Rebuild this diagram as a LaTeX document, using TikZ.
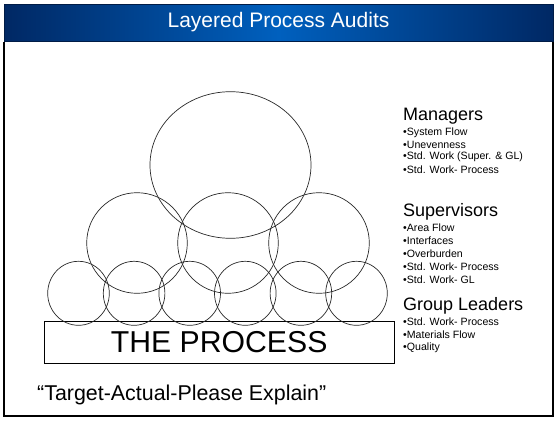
\documentclass[tikz,border=0pt]{standalone}
\usepackage{fontspec}
\setmainfont{Liberation Sans}
\definecolor{barmid}{RGB}{0,96,190}
\definecolor{baredge}{RGB}{0,40,100}
\definecolor{ringcol}{RGB}{40,40,40}
\tikzset{
  ring/.style={draw=ringcol, line width=0.7pt},
  head/.style={anchor=west, inner sep=0pt, font=\fontsize{18}{20}\selectfont},
  item/.style={anchor=west, inner sep=0pt, font=\fontsize{10.6}{12}\selectfont},
}
\begin{document}
\begin{tikzpicture}[x=1pt,y=-1pt]
\useasboundingbox (0,0) rectangle (557,423);
% frame
\draw[line width=1.2pt] (4,41.7) -- (4,416) -- (553,416) -- (553,41.7);
% title bar
\shade[left color=baredge, right color=baredge, middle color=barmid] (4,4) rectangle (553,41.7);
\draw[baredge!70!black, line width=0.8pt] (4,4) rectangle (553,41.7);
\node[text=white, font=\fontsize{21}{24}\selectfont] (title) at (278.5,22.5) {Layered Process Audits};
% process box
\node[draw, line width=0.8pt, minimum width=350pt, minimum height=41.6pt, inner sep=0pt,
      font=\fontsize{30.2}{34}\selectfont] (proc) at (219.2,342.5) {THE PROCESS};
% small circles (group leaders)
\foreach \i in {0,...,5}{
  \draw[ring] (78.5+55.6*\i,293.3) ellipse [x radius=30.8, y radius=32];
}
% medium circles (supervisors)
\foreach \cx in {137,228,319}{
  \draw[ring] (\cx,243) circle [radius=50.3];
}
% large ellipse (managers)
\draw[ring] (230.5,165) ellipse [x radius=80.5, y radius=73.3];
% right-hand text
\node[head] (mgr) at (403,116) {Managers};
\node[item] (m1) at (403,132.5) {•System Flow};
\node[item] (m2) at (403,144.8) {•Unevenness};
\node[item] (m3) at (403,157.1) {•Std. Work (Super. \& GL)};
\node[item] (m4) at (403,169.8) {•Std. Work- Process};
\node[head] (sup) at (403,212) {Supervisors};
\node[item] (s1) at (403,228.2) {•Area Flow};
\node[item] (s2) at (403,241) {•Interfaces};
\node[item] (s3) at (403,254) {•Overburden};
\node[item] (s4) at (403,267) {•Std. Work- Process};
\node[item] (s5) at (403,280) {•Std. Work- GL};
\node[head] (gl) at (403,305.5) {Group Leaders};
\node[item] (g1) at (403,322) {•Std. Work- Process};
\node[item] (g2) at (403,335) {•Materials Flow};
\node[item] (g3) at (403,348) {•Quality};
% slogan
\node[anchor=west, inner sep=0pt, font=\fontsize{21.4}{24}\selectfont] (slogan) at (37,395) {“Target-Actual-Please Explain”};
\end{tikzpicture}
\end{document}
